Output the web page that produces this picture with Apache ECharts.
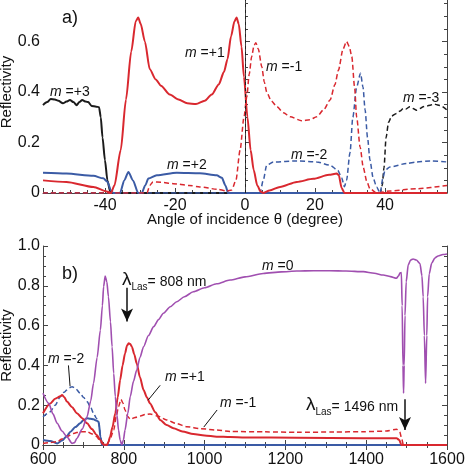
<!DOCTYPE html>
<html>
<head>
<meta charset="utf-8">
<script src="https://cdn.jsdelivr.net/npm/echarts@6/dist/echarts.min.js"></script>
<style>
	html, body { margin: 0; padding: 0; background: #fff; }
	#main { width: 474px; height: 474px; }
</style>
</head>
<body>
<div id="main"></div>
<script>
// a) reflectivity vs angle of incidence (degree)
var redSolidA = [[-57.7,0.05],[-51,0.044],[-43.3,0.024],[-39.5,0.006],[-38.3,0],[-37.3,0.03],[-35.5,0.17],[-34,0.37],[-32.5,0.56],[-31.2,0.68],[-30.5,0.695],[-29.8,0.67],[-28.6,0.6],[-27.2,0.49],[-25.5,0.45],[-24,0.425],[-21.5,0.39],[-19,0.37],[-16.5,0.355],[-14,0.352],[-11.5,0.365],[-9.5,0.39],[-7.5,0.43],[-6,0.48],[-5,0.53],[-4,0.62],[-3,0.68],[-2.4,0.695],[-1.8,0.67],[-1,0.58],[-0.3,0.46],[0.7,0.3],[1.6,0.17],[2.5,0.09],[3.5,0.03],[4.5,0.005],[5.3,0],[7,0.01],[10,0.024],[14.8,0.044],[19.5,0.056],[24,0.072],[26.2,0.077],[26.8,0.07],[27.6,0.02],[28.4,0],[57.7,0]];
var redDashedA = [[-57.7,0],[-28,0],[-27.2,0.03],[-26.3,0.044],[-24,0.043],[-20.5,0.037],[-16,0.03],[-12.9,0.024],[-8,0.015],[-5.2,0.008],[-3.8,0.012],[-2.6,0.05],[-1.4,0.17],[-0.3,0.3],[0.5,0.38],[1.2,0.47],[1.9,0.54],[2.6,0.585],[3.1,0.595],[3.8,0.57],[4.8,0.5],[5.5,0.44],[6.2,0.4],[7.5,0.365],[9.1,0.342],[11,0.318],[12.9,0.302],[16.2,0.286],[18.5,0.29],[20.5,0.302],[22.5,0.33],[24.3,0.368],[25.7,0.43],[26.7,0.487],[28,0.57],[29,0.6],[29.8,0.58],[30.5,0.54],[31.3,0.42],[31.9,0.3],[32.9,0.18],[33.8,0.1],[34.8,0.045],[35.7,0.017],[37.6,0],[41.4,0.008],[49,0.017],[57.7,0.03]];
var blueSolidA = [[-57.7,0.08],[-51,0.077],[-43.3,0.068],[-40.5,0.058],[-39.3,0.045],[-38.3,0.01],[-37.6,0],[-35.7,0],[-34.5,0.05],[-33.3,0.083],[-32,0.05],[-30.5,0],[-29.5,0],[-28.5,0.03],[-27.6,0.057],[-25.2,0.07],[-19.5,0.08],[-12.9,0.078],[-8.1,0.07],[-6.6,0.06],[-5.6,0.03],[-4.8,0],[57.7,0]];
var blueDashedA = [[-57.7,0],[4.3,0],[5.2,0.05],[6.2,0.11],[8.1,0.123],[14.8,0.127],[20.5,0.123],[24.3,0.11],[26.5,0.09],[27.6,0.06],[28.4,0.025],[29,0.05],[30,0.16],[30.8,0.3],[31.9,0.42],[33,0.474],[33.7,0.42],[34.3,0.33],[35,0.22],[35.7,0.13],[36.6,0.06],[37.6,0.024],[38.6,0],[39.4,0.06],[40,0.09],[41.4,0.103],[46.2,0.117],[49,0.123],[52.9,0.127],[57.7,0.123]];
var blackSolidA = [[-57.7,0.348],[-56.5,0.36],[-55.5,0.372],[-54.3,0.37],[-53.3,0.365],[-52,0.355],[-51,0.362],[-50,0.368],[-49,0.36],[-48.1,0.348],[-47.3,0.36],[-46.5,0.368],[-45.5,0.362],[-44.8,0.36],[-43.8,0.345],[-42.5,0.342],[-41.7,0.34],[-41.2,0.3],[-40.7,0.22],[-40,0.13],[-39.3,0.05],[-38.5,0.005],[-38,0],[57.7,0]];
var blackDashedA = [[-57.7,0],[38.6,0],[39.2,0.03],[39.7,0.1],[40.3,0.22],[41,0.28],[41.9,0.305],[43.3,0.315],[44.3,0.325],[45.2,0.335],[46,0.333],[47.1,0.342],[48,0.335],[49,0.328],[50,0.335],[50.9,0.342],[52,0.345],[52.9,0.348],[54,0.352],[54.8,0.35],[56,0.345],[57.7,0.328]];

// b) reflectivity vs wavelength (nm)
var purpleB = [[600,0.26],[614,0.209],[625,0.155],[635,0.109],[647,0.07],[659,0.042],[672,0.008],[678,0.012],[684,0.034],[697,0.08],[709,0.142],[718,0.22],[725,0.31],[734,0.44],[742,0.578],[747,0.7],[750,0.796],[754,0.849],[758,0.82],[762,0.745],[767,0.62],[771,0.494],[775,0.36],[779,0.243],[783,0.15],[787,0.075],[791,0.025],[795,0],[799,0.025],[803,0.075],[810,0.16],[816,0.243],[824,0.32],[832,0.377],[840,0.44],[849,0.494],[861,0.55],[874,0.595],[886,0.63],[898,0.662],[915,0.695],[931,0.72],[950,0.745],[972,0.77],[1000,0.79],[1030,0.81],[1063,0.829],[1100,0.845],[1145,0.862],[1190,0.87],[1228,0.874],[1270,0.876],[1310,0.876],[1350,0.874],[1393,0.871],[1420,0.863],[1442,0.854],[1460,0.846],[1475,0.838],[1480,0.85],[1484,0.865],[1487,0.866],[1489,0.7],[1491,0.4],[1492.5,0.26],[1494,0.4],[1496,0.65],[1499,0.82],[1504,0.905],[1510,0.93],[1516,0.935],[1524,0.93],[1533,0.912],[1538,0.85],[1541,0.745],[1544,0.55],[1547,0.31],[1550,0.55],[1552,0.745],[1556,0.86],[1562,0.913],[1570,0.94],[1578,0.95],[1590,0.957],[1600,0.96]];
var redSolidB = [[600,0.16],[618,0.209],[630,0.232],[643,0.245],[647,0.251],[653,0.24],[659,0.218],[672,0.19],[684,0.16],[697,0.135],[709,0.109],[721,0.08],[733,0.05],[742,0.025],[750,0.003],[758,0],[762,0.015],[766,0.042],[772,0.09],[779,0.16],[785,0.24],[791,0.327],[797,0.4],[803,0.46],[808,0.5],[812,0.511],[816,0.507],[820,0.494],[826,0.455],[832,0.41],[840,0.34],[849,0.276],[857,0.24],[865,0.209],[878,0.165],[890,0.126],[906,0.1],[923,0.084],[945,0.068],[972,0.055],[1000,0.048],[1030,0.042],[1063,0.04],[1100,0.038],[1228,0.037],[1393,0.034],[1475,0.034],[1482,0.025],[1487,0],[1600,0]];
var redDashedB = [[600,0.008],[618,0.012],[635,0.017],[647,0.03],[659,0.042],[675,0.058],[692,0.067],[709,0.067],[722,0.055],[733,0.042],[742,0.017],[750,0],[758,0],[766,0.03],[775,0.075],[781,0.14],[787,0.193],[793,0.229],[798,0.21],[803,0.176],[809,0.145],[816,0.13],[828,0.138],[841,0.146],[853,0.153],[865,0.156],[885,0.145],[906,0.126],[930,0.108],[956,0.092],[990,0.082],[1030,0.075],[1063,0.068],[1150,0.066],[1228,0.064],[1320,0.065],[1393,0.067],[1450,0.07],[1475,0.079],[1483,0.067],[1488,0.03],[1492,0],[1600,0]];
var blueSolidB = [[600,0.025],[618,0.02],[635,0.008],[647,0.022],[659,0.045],[668,0.067],[680,0.09],[692,0.109],[700,0.125],[709,0.134],[717,0.132],[725,0.129],[733,0.122],[738,0.117],[742,0.042],[746,0],[1600,0]];
var blueDashedB = [[600,0.142],[618,0.167],[630,0.2],[643,0.243],[652,0.265],[659,0.276],[666,0.288],[672,0.293],[680,0.285],[692,0.26],[700,0.24],[709,0.218],[718,0.19],[725,0.16],[732,0.135],[738,0.109],[743,0.034],[748,0],[1600,0]];

// laser lines
var lasers = [808, 1496];

var FONT = "'Liberation Sans', Arial, Helvetica, sans-serif";
var RED = '#d9282f', BLUE = '#3b5ba5', PURPLE = '#a04fb0', BLACK = '#1b1b1b';

function yLabel(v) { return v === 0 ? '0' : v.toFixed(1); }

function frameAxis(extra) {
	var a = {
		type: 'value',
		axisLine: { show: true, lineStyle: { color: '#444', width: 1 } },
		axisTick: { show: true, inside: true, length: 5, lineStyle: { color: '#444' } },
		minorTick: { show: true, splitNumber: 4, length: 3, lineStyle: { color: '#444' } },
		splitLine: { show: false },
		axisLabel: { show: false, color: '#111', fontSize: 16, fontFamily: FONT }
	};
	for (var k in extra) a[k] = extra[k];
	return a;
}

function line(data, color, dashed, xi, yi, w) {
	return {
		type: 'line', data: data, xAxisIndex: xi, yAxisIndex: yi,
		symbol: 'none', smooth: 0.25, smoothMonotone: 'x', animation: false, silent: true,
		lineStyle: { color: color, width: w || (dashed ? 1.5 : 2), type: dashed ? [5, 3] : 'solid' }
	};
}

function label(x, y, txt) {
	return {
		type: 'text', left: x, top: y, silent: true,
		style: {
			text: '{i|m} =' + txt, fill: '#111', font: '14px ' + FONT,
			rich: { i: { fontStyle: 'italic', fontSize: 14, fontFamily: FONT, fill: '#111' } }
		}
	};
}

function lasLabel(x, y, nm) {
	return {
		type: 'text', left: x, top: y, silent: true,
		style: {
			text: '{l|λ}{s|Las}{n|= ' + nm + ' nm}', fill: '#111',
			rich: {
				l: { fontSize: 19, fontFamily: FONT, fill: '#111', verticalAlign: 'bottom' },
				s: { fontSize: 10, fontFamily: FONT, fill: '#111', verticalAlign: 'bottom', padding: [0, 0, -3, 0] },
				n: { fontSize: 14, fontFamily: FONT, fill: '#111', verticalAlign: 'bottom' }
			}
		}
	};
}

var myChart = echarts.init(document.getElementById('main'));

var topSeries = [
	line(blackSolidA, BLACK, false, 0, 0),
	line(blackDashedA, BLACK, true, 0, 0),
	line(blueSolidA, BLUE, false, 0, 0),
	line(blueDashedA, BLUE, true, 0, 0),
	line(redDashedA, RED, true, 0, 0),
	line(redSolidA, RED, false, 0, 0)
];
topSeries[0].markLine = {
	silent: true, symbol: 'none', animation: false, label: { show: false },
	lineStyle: { color: '#222', width: 1, type: [3, 3] },
	data: [{ xAxis: 0 }]
};

var arrowLine = function (x, y0, y1) {
	return [{ coord: [x, y0], symbol: 'none' }, { coord: [x, y1], symbol: 'arrow', symbolSize: [9, 13] }];
};
var leader = function (a, b) {
	return [{ coord: a, symbol: 'none' }, { coord: b, symbol: 'none' }];
};

var bottomSeries = [
	line(blueSolidB, BLUE, false, 1, 2),
	line(blueDashedB, BLUE, true, 1, 2),
	line(redDashedB, RED, true, 1, 2),
	line(redSolidB, RED, false, 1, 2),
	line(purpleB, PURPLE, false, 1, 2, 1.6)
];
bottomSeries[0].markLine = {
	silent: true, animation: false, label: { show: false },
	lineStyle: { color: '#111', width: 1, type: 'solid' },
	data: [
		arrowLine(lasers[0], 0.79, 0.62),
		arrowLine(lasers[1], 0.23, 0.075),
		leader([890, 0.30], [860, 0.225]),
		leader([1031, 0.176], [998, 0.09]),
		leader([663, 0.40], [667, 0.295])
	]
};
bottomSeries[0].markLine.data[0][0].lineStyle = { width: 1.5 };
bottomSeries[0].markLine.data[1][0].lineStyle = { width: 1.5 };

var option = {
	animation: false,
	grid: [
		{ left: 43, right: 27, top: -9, bottom: 281, outerBoundsMode: 'none', containLabel: false },
		{ left: 43, right: 27, top: 246, bottom: 29, outerBoundsMode: 'none', containLabel: false }
	],
	xAxis: [
		frameAxis({
			gridIndex: 0, min: -57.7, max: 57.7, splitNumber: 5,
			name: 'Angle of incidence θ (degree)', nameLocation: 'middle', nameGap: 19, nameMoveOverlap: false,
			nameTextStyle: { fontSize: 15, fontFamily: FONT, color: '#111' },
			axisLabel: { show: true, margin: 5, color: '#111', fontSize: 16, fontFamily: FONT, showMinLabel: false, showMaxLabel: false,
				formatter: function (v) { return Math.abs(v % 20) < 1e-6 ? String(v) : ''; } }
		}),
		frameAxis({
			gridIndex: 1, min: 600, max: 1600, interval: 200,
			axisLabel: { show: true, margin: 7, color: '#111', fontSize: 16, fontFamily: FONT,
				formatter: function (v) { return String(v); } }
		}),
		frameAxis({ gridIndex: 1, min: 600, max: 1600, interval: 200, position: 'top' })
	],
	yAxis: [
		frameAxis({
			gridIndex: 0, min: 0, max: 0.8, interval: 0.2,
			name: 'Reflectivity', nameLocation: 'middle', nameGap: 29, nameMoveOverlap: false,
			nameTextStyle: { fontSize: 15, fontFamily: FONT, color: '#111' },
			axisLabel: { show: true, margin: 3, color: '#111', fontSize: 16, fontFamily: FONT,
				formatter: function (v) { return v > 0.7 ? '' : yLabel(v); } }
		}),
		frameAxis({ gridIndex: 0, min: 0, max: 0.8, interval: 0.2, position: 'right' }),
		frameAxis({
			gridIndex: 1, min: 0, max: 1, interval: 0.2,
			name: 'Reflectivity', nameLocation: 'middle', nameGap: 29, nameMoveOverlap: false,
			nameTextStyle: { fontSize: 15, fontFamily: FONT, color: '#111' },
			axisLabel: { show: true, margin: 3, color: '#111', fontSize: 16, fontFamily: FONT, formatter: yLabel }
		}),
		frameAxis({ gridIndex: 1, min: 0, max: 1, interval: 0.2, position: 'right' })
	],
	series: topSeries.concat(bottomSeries),
	graphic: [
		{ type: 'text', left: 62, top: 9, silent: true, style: { text: 'a)', font: '18px ' + FONT, fill: '#111' } },
		{ type: 'text', left: 62, top: 265, silent: true, style: { text: 'b)', font: '18px ' + FONT, fill: '#111' } },
		label(185, 46, '+1'),
		label(50, 85, '+3'),
		label(167, 158, '+2'),
		label(266, 60, '-1'),
		label(291, 148, '-2'),
		label(403, 91, '-3'),
		label(262, 259, '0'),
		label(165, 370, '+1'),
		label(220, 396, '-1'),
		label(48, 352, '-2'),
		lasLabel(122, 270, '808'),
		lasLabel(306, 395, '1496')
	]
};

myChart.setOption(option);
</script>
</body>
</html>
